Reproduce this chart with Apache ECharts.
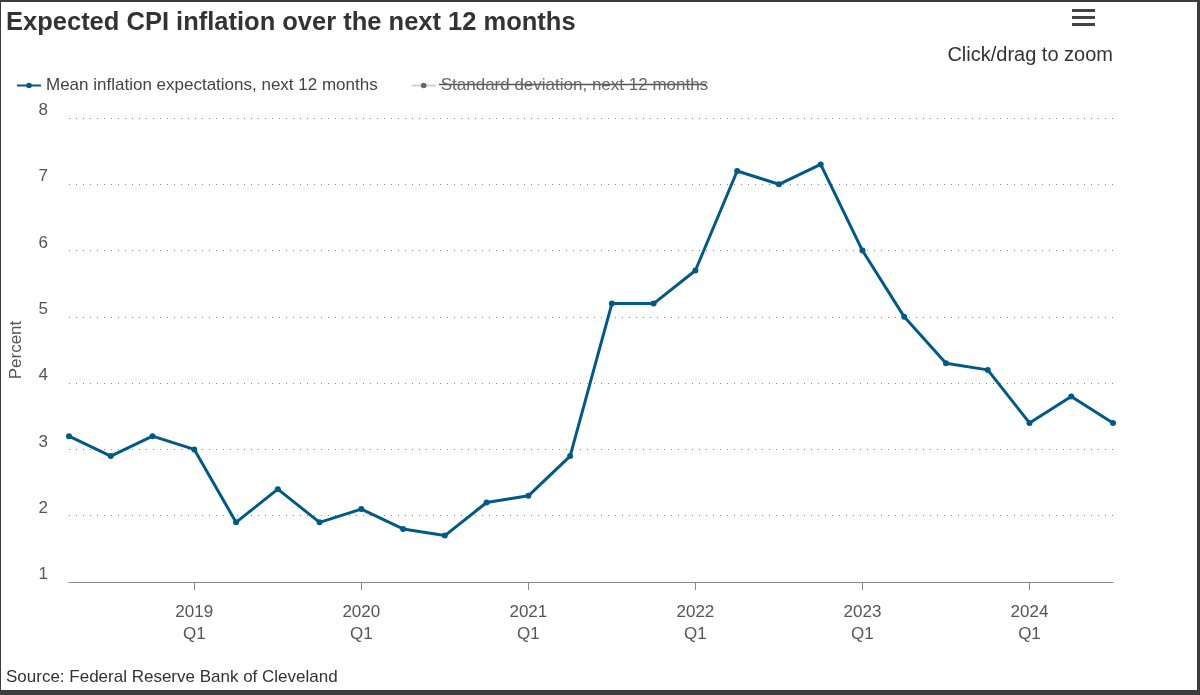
<!DOCTYPE html>
<html>
<head>
<meta charset="utf-8">
<script src="https://cdn.jsdelivr.net/npm/echarts@6/dist/echarts.min.js"></script>
<style>
html,body{margin:0;padding:0;background:#fff;}
#chart{width:1200px;height:695px;}
</style>
</head>
<body>
<div id="chart"></div>
<script>
var quarters = ["2018 Q2","2018 Q3","2018 Q4","2019 Q1","2019 Q2","2019 Q3","2019 Q4","2020 Q1","2020 Q2","2020 Q3","2020 Q4","2021 Q1","2021 Q2","2021 Q3","2021 Q4","2022 Q1","2022 Q2","2022 Q3","2022 Q4","2023 Q1","2023 Q2","2023 Q3","2023 Q4","2024 Q1","2024 Q2","2024 Q3"];
var meanExpectations = [3.2,2.9,3.2,3.0,1.9,2.4,1.9,2.1,1.8,1.7,2.2,2.3,2.9,5.2,5.2,5.7,7.2,7.0,7.3,6.0,5.0,4.3,4.2,3.4,3.8,3.4];
var stdDeviation = [];
var seriesNames = ["Mean inflation expectations, next 12 months","Standard deviation, next 12 months"];

var chart = echarts.init(document.getElementById('chart'), null, {renderer:'canvas'});
var font = "'Liberation Sans', Arial, sans-serif";
function isQ1(idx){ return /Q1$/.test(quarters[idx]); }
var sel = {}; sel[seriesNames[0]] = true; sel[seriesNames[1]] = false;
chart.setOption({
  animation:false,
  textStyle:{fontFamily:font},
  title:{text:"Expected CPI inflation over the next 12 months", left:1, top:5,
    textStyle:{fontSize:25.5, fontWeight:'bold', color:'#333', fontFamily:font}},
  legend:{left:11, top:72, itemWidth:24, itemHeight:7, itemGap:33, selected:sel,
    inactiveColor:'#666', textStyle:{fontSize:17, color:'#444', fontFamily:font},
    data:seriesNames},
  grid:{left:69, right:87, top:118, bottom:113, containLabel:false, outerBoundsMode:'none'},
  xAxis:{type:'category', data:quarters, boundaryGap:false,
    axisLine:{lineStyle:{color:'#888', width:1}},
    axisTick:{show:true, length:8, lineStyle:{color:'#888'}, interval:function(i){return isQ1(i);}},
    axisLabel:{interval:function(i){return isQ1(i);}, margin:19, fontSize:17, lineHeight:22, color:'#555',
      formatter:function(v){ var p=v.split(' '); return p[0]+'\n'+p[1]; }},
    splitLine:{show:false}},
  yAxis:{type:'value', min:1, max:8, interval:1,
    name:'Percent', nameLocation:'middle', nameGap:44, nameRotate:90,
    nameTextStyle:{fontSize:17, color:'#555'},
    axisLine:{show:false}, axisTick:{show:false},
    axisLabel:{fontSize:17, color:'#555', margin:21, verticalAlign:'bottom', lineHeight:15},
    splitLine:{lineStyle:{color:'#888', type:[1,6], width:1}}},
  series:[
    {name:seriesNames[0], type:'line', data:meanExpectations, symbol:'circle', symbolSize:6,
      lineStyle:{color:'#005a87', width:3}, itemStyle:{color:'#005a87'}},
    {name:seriesNames[1], type:'line', data:stdDeviation, symbol:'circle', symbolSize:6,
      lineStyle:{color:'#434348', width:2}, itemStyle:{color:'#434348'}}
  ],
  graphic:[
    {type:'text', right:87, top:45, style:{text:'Click/drag to zoom', font:"20px "+font, fill:'#333'}},
    {type:'rect', shape:{x:1072,y:9,width:23,height:3}, style:{fill:'#444'}},
    {type:'rect', shape:{x:1072,y:16,width:23,height:3}, style:{fill:'#444'}},
    {type:'rect', shape:{x:1072,y:23,width:23,height:3}, style:{fill:'#444'}},
    {type:'line', shape:{x1:439,y1:84.5,x2:706,y2:84.5}, style:{stroke:'#555', lineWidth:1.5}},
    {type:'text', left:6, top:669, style:{text:'Source: Federal Reserve Bank of Cleveland', font:"17px "+font, fill:'#333'}},
    {type:'rect', shape:{x:0,y:0,width:1200,height:2}, style:{fill:'#3c3c3c'}},
    {type:'rect', shape:{x:0,y:690,width:1200,height:5}, style:{fill:'#3c3c3c'}},
    {type:'rect', shape:{x:1197,y:0,width:3,height:695}, style:{fill:'#3c3c3c'}},
    {type:'rect', shape:{x:0,y:0,width:1,height:695}, style:{fill:'#3c3c3c'}}
  ]
});
</script>
</body>
</html>
